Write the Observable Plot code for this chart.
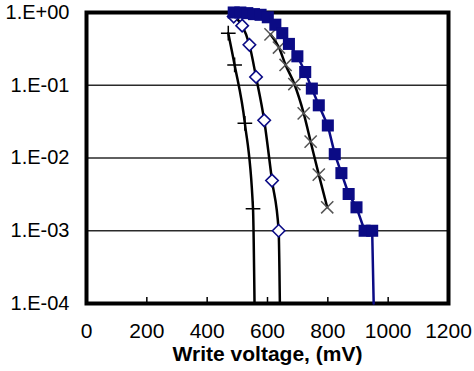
<!DOCTYPE html>
<html>
<head>
<meta charset="utf-8">
<script src="https://cdn.jsdelivr.net/npm/d3@7"></script>
<script src="https://cdn.jsdelivr.net/npm/@observablehq/plot@0.6"></script>
<style>
  html, body { margin: 0; padding: 0; background: #fff; }
  #chart { width: 474px; height: 371px; }
</style>
</head>
<body>
<div id="chart"></div>
<script>
// ---- data ----
const xTicks = [0, 200, 400, 600, 800, 1000, 1200];
const yTicks = [1, 0.1, 0.01, 0.001, 0.0001];
const gridValues = [0.1, 0.01, 0.001];
const xTitle = "Write voltage, (mV)";

// "+" series
const plusV = [470, 491, 525, 552];
const plusP = [0.52, 0.19, 0.030, 0.002];
const plusTail = [557, 0.0001];

// open diamond series
const diaV = [488, 516, 540, 562, 589, 615, 637];
const diaP = [0.88, 0.66, 0.36, 0.13, 0.033, 0.0049, 0.001];
const diaTail = [641, 0.0001];

// "x" series
const timesV = [610, 638, 660, 689, 720, 743, 770, 798];
const timesP = [0.50, 0.33, 0.19, 0.104, 0.041, 0.0168, 0.0059, 0.0021];

// filled square series
const sqV = [488, 510, 533, 555, 577, 601, 626, 649, 671, 699, 725, 747, 770, 800, 823, 845, 869, 895, 922, 947];
const sqP = [1.0, 1.0, 0.98, 0.95, 0.93, 0.86, 0.68, 0.52, 0.37, 0.25, 0.152, 0.09, 0.053, 0.028, 0.0113, 0.0062, 0.0032, 0.0021, 0.001, 0.001];
const sqTail = [952, 0.0001];

// ---- build tables ----
const pts = (V, P) => V.map((v, i) => ({v, p: P[i]}));
const plusPts = pts(plusV, plusP);
const diaPts = pts(diaV, diaP);
const timesPts = pts(timesV, timesP);
const sqPts = pts(sqV, sqP);
const withTail = (arr, t) => arr.concat([{v: t[0], p: t[1]}]);

const fmtY = d => {
  const e = Math.round(Math.log10(d));
  return "1.E" + (e >= 0 ? "+" : "-") + String(Math.abs(e)).padStart(2, "0");
};
const fmtX = d => String(d);

const navy = "#0b0b85";

const chart = Plot.plot({
  width: 474,
  height: 371,
  marginLeft: 86,
  marginRight: 26,
  marginTop: 12,
  marginBottom: 68,
  style: {fontFamily: "'Liberation Sans', Arial, sans-serif", fontSize: "21px", color: "black", background: "white"},
  x: {domain: [0, 1200]},
  y: {type: "log", domain: [0.0001, 1]},
  marks: [
    Plot.ruleY(gridValues, {stroke: "#2a2a2a", strokeWidth: 1.5}),
    Plot.axisY({ticks: yTicks, tickFormat: fmtY, tickSize: 0, tickPadding: 17, fontSize: 20, label: null}),
    Plot.axisX({ticks: xTicks, tickFormat: fmtX, tickSize: -6, tickPadding: 26, strokeWidth: 1.5, fontSize: 21, label: null}),
    Plot.frame({stroke: "black", strokeWidth: 4}),
    Plot.text([xTitle], {frameAnchor: "bottom", dy: 57, fontSize: 21, fontWeight: "bold", fill: "black"}),
    // lines
    Plot.line(withTail(plusPts, plusTail), {x: "v", y: "p", curve: "monotone-x", stroke: "black", strokeWidth: 2.5}),
    Plot.line(withTail(diaPts, diaTail), {x: "v", y: "p", curve: "monotone-x", stroke: "black", strokeWidth: 2.5}),
    Plot.line(timesPts, {x: "v", y: "p", curve: "monotone-x", stroke: "black", strokeWidth: 2.5}),
    Plot.line(withTail(sqPts, sqTail), {x: "v", y: "p", stroke: navy, strokeWidth: 2.5}),
    // markers
    Plot.dot(plusPts, {x: "v", y: "p", symbol: "plus", r: 4.8, stroke: "black", strokeWidth: 1.5}),
    Plot.dot(diaPts, {x: "v", y: "p", symbol: "diamond2", r: 5.6, fill: "white", stroke: navy, strokeWidth: 1.6}),
    Plot.dot(timesPts, {x: "v", y: "p", symbol: "times", r: 5.6, stroke: "#555", strokeWidth: 1.5}),
    Plot.dot(sqPts, {x: "v", y: "p", symbol: "square", r: 6.8, fill: navy, stroke: "none"})
  ]
});
document.getElementById("chart").appendChild(chart);
</script>
</body>
</html>
